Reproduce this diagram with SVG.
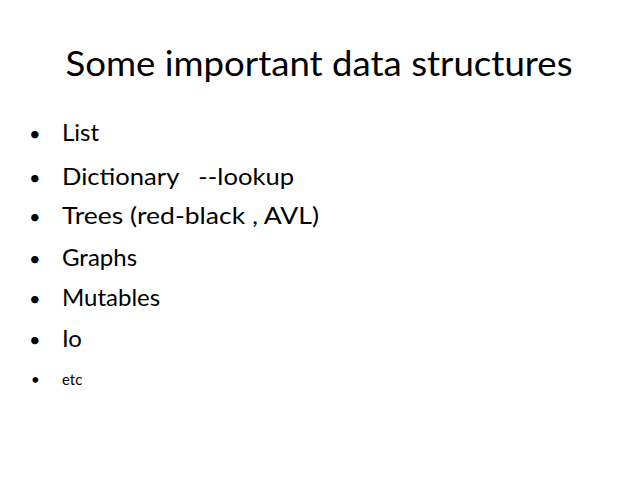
<svg xmlns="http://www.w3.org/2000/svg" width="638" height="478" viewBox="0 0 638 478">
<style>
text{font-family:Lato,"Open Sans","Liberation Sans",sans-serif;fill:#000}
.t{font-size:35px}
.b{font-size:24px}
.s{font-size:15px}
.d{font-size:20px}
</style>
<rect width="638" height="478" fill="#fff"/>
<text class="t" x="319" y="76" text-anchor="middle" textLength="507" lengthAdjust="spacingAndGlyphs">Some important data structures</text>
<g class="b">
<text class="d" x="29" y="141">•</text><text x="62" y="141">List</text>
<text class="d" x="29" y="185">•</text><text x="62" y="185" xml:space="preserve" textLength="232" lengthAdjust="spacingAndGlyphs">Dictionary   --lookup</text>
<text class="d" x="29" y="224">•</text><text x="62" y="224" textLength="257" lengthAdjust="spacingAndGlyphs">Trees (red-black , AVL)</text>
<text class="d" x="29" y="266">•</text><text x="62" y="266">Graphs</text>
<text class="d" x="29" y="306">•</text><text x="62" y="306">Mutables</text>
<text class="d" x="29" y="347">•</text><text x="62" y="347">Io</text>
</g>
<text class="s" x="31" y="385">•</text><text class="s" x="62" y="385">etc</text>
</svg>
